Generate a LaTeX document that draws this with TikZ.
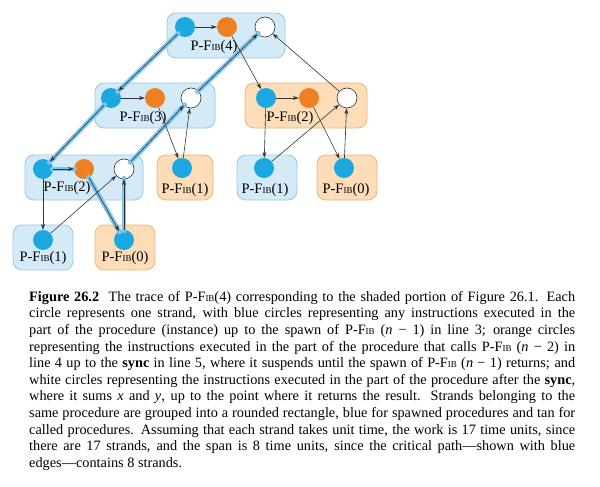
\documentclass[tikz,border=0pt]{standalone}
\usepackage{fontspec}
\setmainfont{Liberation Serif}
\usetikzlibrary{arrows.meta}
\definecolor{cb}{HTML}{1BA8E0}
\definecolor{co}{HTML}{F07F23}
\definecolor{bf}{HTML}{D5EAF7}
\definecolor{bd}{HTML}{96C8E8}
\definecolor{tf}{HTML}{FCDDB8}
\definecolor{td}{HTML}{F0B57A}
\definecolor{hl}{HTML}{7CC4EC}
\newcommand{\pfib}{P-F{\small IB}}
\newcommand{\nm}[1]{(\textit{n} − #1)}
\begin{document}
\begin{tikzpicture}[x=1pt,y=-1pt,
  st/.style={circle,minimum size=20pt,inner sep=0pt},
  B/.style={st,fill=cb},O/.style={st,fill=co},W/.style={st,draw=black!80,fill=white,line width=0.6pt},
  bbox/.style={draw=bd,fill=bf,rounded corners=9pt,line width=0.8pt},
  tbox/.style={draw=td,fill=tf,rounded corners=9pt,line width=0.8pt},
  lab/.style={font=\fontsize{14.5}{15}\selectfont,inner sep=0pt},
  e/.style={-{Stealth[length=6pt,width=4pt]},black!80,line width=0.6pt},
  crit/.style={hl,line width=4.5pt,line cap=round}]
\useasboundingbox (0,0) rectangle (600,487);
% boxes
\draw[bbox] (167,13) rectangle (285,58);
\draw[bbox] (95,83) rectangle (215,128);
\draw[tbox] (245,83) rectangle (367,128);
\draw[bbox] (25,155) rectangle (143,200);
\draw[tbox] (157,155) rectangle (213,200);
\draw[bbox] (237,155) rectangle (297,200);
\draw[tbox] (317,155) rectangle (377,200);
\draw[bbox] (13,225) rectangle (73,270);
\draw[tbox] (95,225) rectangle (155,270);
% labels
\node[lab] (l4) at (214,47) {\pfib(4)};
\node[lab] (l3) at (143,118) {\pfib(3)};
\node[lab] (l2r) at (290,118) {\pfib(2)};
\node[lab] (l2) at (67,188) {\pfib(2)};
\node[lab] (l1a) at (185,190) {\pfib(1)};
\node[lab] (l1b) at (265,190) {\pfib(1)};
\node[lab] (l0b) at (346,190) {\pfib(0)};
\node[lab] (l1c) at (43,258) {\pfib(1)};
\node[lab] (l0c) at (125,258) {\pfib(0)};
% strands
\node[B] (a1) at (185,27) {}; \node[O] (a2) at (227,27) {}; \node[W] (a3) at (265,27) {};
\node[B] (b1) at (111,98) {}; \node[O] (b2) at (155,98) {}; \node[W] (b3) at (191,98) {};
\node[B] (c1) at (266,98) {}; \node[O] (c2) at (309,98) {}; \node[W] (c3) at (347,98) {};
\node[B] (d1) at (43,169) {}; \node[O] (d2) at (84,169) {}; \node[W] (d3) at (124,169) {};
\node[B] (f1) at (182,168) {};
\node[B] (g1) at (264,168) {};
\node[B] (h1) at (344,168) {};
\node[B] (i1) at (43,240) {};
\node[B] (j1) at (124,240) {};
% critical highlights
\foreach \u/\v in {a1/b1,b1/d1,d1/d2,d2/j1,j1/d3,d3/b3,b3/a3}
  \draw[crit,shorten <=9pt,shorten >=9pt] (\u.center) -- (\v.center);
% edges
\foreach \u/\v in {a1/a2,a1/b1,a2/c1,b3/a3,c3/a3,b1/b2,b1/d1,b2/f1,f1/b3,d3/b3,
  d1/d2,d1/i1,i1/d3,d2/j1,j1/d3,c1/c2,c1/g1,g1/c3,c2/h1,h1/c3}
  \draw[e] (\u) -- (\v);
% caption
\node[anchor=north west,inner sep=0pt,text width=546pt,align=justify,
  font=\fontsize{14.3}{16.6}\selectfont] (cap) at (29,291) {%
\textbf{Figure 26.2}\ \ The trace of P-F{\small IB}(4) corresponding to the shaded portion of Figure 26.1. Each\linebreak
circle represents one strand, with blue circles representing any instructions executed in the\linebreak
part of the procedure (instance) up to the spawn of P-F{\small IB} \nm{1} in line 3; orange circles\linebreak
representing the instructions executed in the part of the procedure that calls P-F{\small IB} \nm{2} in\linebreak
line 4 up to the \textbf{sync} in line 5, where it suspends until the spawn of P-F{\small IB} \nm{1} returns; and\linebreak
white circles representing the instructions executed in the part of the procedure after the \textbf{sync},\linebreak
where it sums \textit{x} and \textit{y}, up to the point where it returns the result. Strands belonging to the\linebreak
same procedure are grouped into a rounded rectangle, blue for spawned procedures and tan for\linebreak
called procedures. Assuming that each strand takes unit time, the work is 17 time units, since\linebreak
there are 17 strands, and the span is 8 time units, since the critical path---shown with blue\linebreak
edges---contains 8 strands.};
\end{tikzpicture}
\end{document}
